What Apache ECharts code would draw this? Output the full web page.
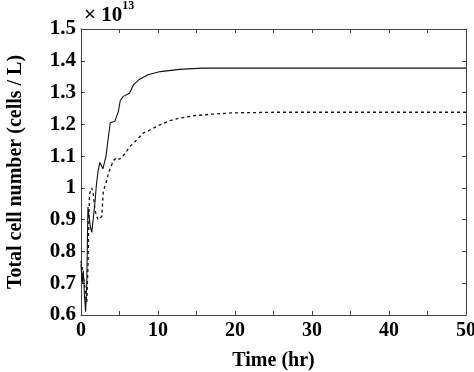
<!DOCTYPE html>
<html><head><meta charset="utf-8">
<script src="https://cdn.jsdelivr.net/npm/echarts@6/dist/echarts.min.js"></script>
<style>html,body{margin:0;padding:0;background:#fff}#c{width:474px;height:372px}</style>
</head><body><div id="c"></div>
<script>
// values in units of 1e13 cells / L
var solidT = [0,0.15,0.3,0.45,0.6,0.75,0.9,1.05,1.2,1.4,1.6,1.8,2.0,2.2,2.45,2.85,3.25,3.5,3.8,4.4,4.85,5.1,5.5,6.3,6.8,7.5,8.7,10.3,12.8,15.7,20,30,40,50];
var solidV = [0.76,0.70,0.74,0.66,0.61,0.70,0.94,0.94,0.88,0.86,0.86,0.95,1.01,1.05,1.08,1.06,1.10,1.15,1.205,1.21,1.24,1.275,1.288,1.298,1.324,1.34,1.356,1.366,1.373,1.377,1.377,1.377,1.377,1.377];
var dashT = [0,0.2,0.45,0.6,0.75,0.9,1.1,1.4,1.6,1.8,2.2,2.7,2.9,3.3,3.6,4.2,4.6,5.0,5.6,6.4,7.0,8.1,9.0,10.3,11.6,12.9,14.6,17,19.7,25,30,40,50];
var dashV = [0.77,0.74,0.70,0.66,0.64,0.75,0.98,1.0,0.98,0.93,0.90,0.91,0.99,1.02,1.05,1.085,1.095,1.09,1.105,1.131,1.145,1.173,1.183,1.199,1.212,1.22,1.227,1.232,1.236,1.238,1.238,1.238,1.238];
var xTicks = [0,10,20,30,40,50];
var yTicks = [0.6,0.7,0.8,0.9,1,1.1,1.2,1.3,1.4,1.5];

function pairs(t, v){ return t.map(function(x,i){return [x, v[i]];}); }
var font = '"Liberation Serif", "Times New Roman", serif';
var chart = echarts.init(document.getElementById('c'), null, {renderer:'canvas'});
var axisCol = '#444';
chart.setOption({
  animation:false,
  backgroundColor:'#fff',
  grid:{left:81,right:8,top:29,bottom:57,containLabel:false,outerBoundsMode:'none'},
  title:{
    text:'{a|× 10}{b|13}', left:79, top:-5,
    textStyle:{rich:{
      a:{fontFamily:font,fontWeight:'bold',fontSize:21,color:'#000',verticalAlign:'bottom',padding:[5,0,0,0]},
      b:{fontFamily:font,fontWeight:'bold',fontSize:12,color:'#000',verticalAlign:'top',padding:[0,0,7,0]}
    }}
  },
  xAxis:[{
    type:'value', min:0, max:50, interval:5,
    name:'Time (hr)', nameLocation:'middle', nameGap:36,
    nameTextStyle:{fontFamily:font,fontWeight:'bold',fontSize:20,color:'#000'},
    axisLine:{show:true,lineStyle:{color:axisCol,width:1}},
    axisTick:{show:true,inside:true,length:4,lineStyle:{color:axisCol}},
    axisLabel:{fontFamily:font,fontWeight:'bold',fontSize:20,color:'#000',margin:6,
      formatter:function(v){return xTicks.indexOf(v)>=0?String(v):'';}},
    splitLine:{show:false}
  },{
    type:'value', position:'top', min:0, max:50, interval:5,
    axisLine:{show:true,onZero:false,lineStyle:{color:axisCol,width:1}},
    axisTick:{show:true,inside:true,length:4,lineStyle:{color:axisCol}},
    axisLabel:{show:false}, splitLine:{show:false}
  }],
  yAxis:[{
    type:'value', min:0.6, max:1.5, interval:0.1,
    name:'Total cell number (cells / L)', nameLocation:'middle', nameGap:55, nameRotate:90,
    nameTextStyle:{fontFamily:font,fontWeight:'bold',fontSize:20,color:'#000'},
    axisLine:{show:true,lineStyle:{color:axisCol,width:1}},
    axisTick:{show:true,inside:true,length:4,lineStyle:{color:axisCol}},
    axisLabel:{fontFamily:font,fontWeight:'bold',fontSize:21,color:'#000',margin:5,
      formatter:function(v){var r=Math.round(v*10)/10; return yTicks.indexOf(r)>=0?String(r):'';}},
    splitLine:{show:false}
  },{
    type:'value', position:'right', min:0.6, max:1.5, interval:0.1,
    axisLine:{show:true,onZero:false,lineStyle:{color:axisCol,width:1}},
    axisTick:{show:true,inside:true,length:4,lineStyle:{color:axisCol}},
    axisLabel:{show:false}, splitLine:{show:false}
  }],
  series:[{
    type:'line', data:pairs(solidT, solidV), showSymbol:false, symbol:'none',
    lineStyle:{color:'#111',width:1.1,type:'solid'}
  },{
    type:'line', data:pairs(dashT, dashV), showSymbol:false, symbol:'none',
    lineStyle:{color:'#111',width:1.3,type:[3,3]}
  }]
});
</script></body></html>
